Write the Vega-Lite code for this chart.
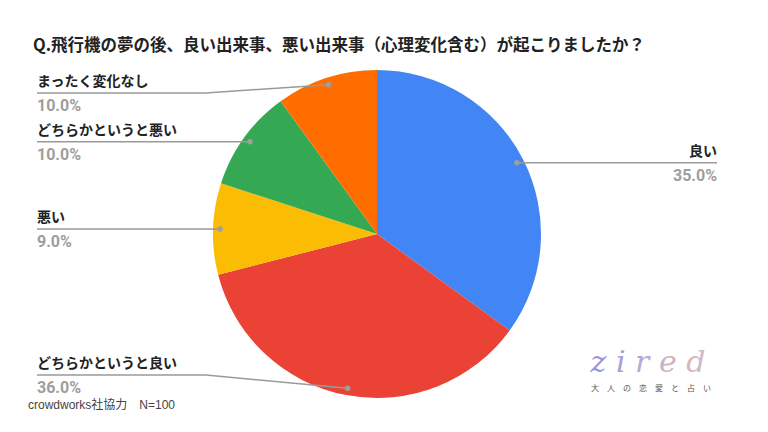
{
  "$schema": "https://vega.github.io/schema/vega-lite/v6.json",
  "width": 768,
  "height": 432,
  "autosize": {"type": "fit", "contains": "padding"},
  "padding": 0,
  "background": "white",
  "config": {"view": {"stroke": null}},
  "datasets": {
    "answers": [
      {"answer": "良い", "value": 35, "order": 1},
      {"answer": "どちらかというと良い", "value": 36, "order": 2},
      {"answer": "悪い", "value": 9, "order": 3},
      {"answer": "どちらかというと悪い", "value": 10, "order": 4},
      {"answer": "まったく変化なし", "value": 10, "order": 5}
    ]
  },
  "layer": [
    {
      "data": {"name": "answers"},
      "mark": {"type": "arc", "outerRadius": 164},
      "encoding": {
        "theta": {"field": "value", "type": "quantitative", "stack": true},
        "order": {"field": "order", "type": "quantitative"},
        "color": {
          "field": "answer",
          "type": "nominal",
          "scale": {
            "domain": ["良い", "どちらかというと良い", "悪い", "どちらかというと悪い", "まったく変化なし"],
            "range": ["#4285F4", "#EA4335", "#FBBC04", "#34A853", "#FF6D01"]
          },
          "legend": null
        },
        "x": {"datum": 377, "type": "quantitative", "scale": {"domain": [0, 768], "nice": false, "zero": false}, "axis": null},
        "y": {"datum": 234, "type": "quantitative", "scale": {"domain": [0, 432], "nice": false, "zero": false, "reverse": true}, "axis": null}
      }
    },
    {
      "data": {"name": "answers"},
      "transform": [
        {"joinaggregate": [{"op": "sum", "field": "value", "as": "total"}]},
        {"stack": "value", "groupby": [], "sort": [{"field": "order", "order": "ascending"}], "as": ["v0", "v1"]},
        {"calculate": "(datum.v0 + datum.v1) / 2 / datum.total * 2 * PI", "as": "ang"},
        {"calculate": "377 + 157 * sin(datum.ang)", "as": "dotX"},
        {"calculate": "234 - 157 * cos(datum.ang)", "as": "dotY"},
        {"calculate": "sin(datum.ang) < 0", "as": "left"},
        {"calculate": "clamp(datum.dotY, 93, 375)", "as": "lineY"},
        {"calculate": "datum.left ? 37 : 717", "as": "endX"},
        {"calculate": "datum.left ? 206 : 560", "as": "bendX"},
        {"calculate": "format(datum.value / datum.total * 100, '.1f') + '%'", "as": "pct"}
      ],
      "layer": [
        {
          "mark": {"type": "rule", "color": "#9a9a9a", "strokeWidth": 1.5},
          "encoding": {
            "x": {"field": "endX", "type": "quantitative"},
            "x2": {"field": "bendX"},
            "y": {"field": "lineY", "type": "quantitative"}
          }
        },
        {
          "mark": {"type": "rule", "color": "#9a9a9a", "strokeWidth": 1.5},
          "encoding": {
            "x": {"field": "bendX", "type": "quantitative"},
            "x2": {"field": "dotX"},
            "y": {"field": "lineY", "type": "quantitative"},
            "y2": {"field": "dotY"}
          }
        },
        {
          "mark": {"type": "point", "filled": true, "size": 30, "color": "#9e9e9e", "opacity": 1},
          "encoding": {
            "x": {"field": "dotX", "type": "quantitative"},
            "y": {"field": "dotY", "type": "quantitative"}
          }
        },
        {
          "transform": [{"filter": "datum.left"}],
          "mark": {"type": "text", "align": "left", "baseline": "alphabetic", "dy": -7, "font": "Noto Sans CJK JP", "fontWeight": "bold", "fontSize": 14, "color": "#222222"},
          "encoding": {
            "x": {"field": "endX", "type": "quantitative"},
            "y": {"field": "lineY", "type": "quantitative"},
            "text": {"field": "answer"}
          }
        },
        {
          "transform": [{"filter": "datum.left"}],
          "mark": {"type": "text", "align": "left", "baseline": "alphabetic", "dy": 18, "font": "Roboto", "fontWeight": "bold", "fontSize": 16, "color": "#9e9e9e"},
          "encoding": {
            "x": {"field": "endX", "type": "quantitative"},
            "y": {"field": "lineY", "type": "quantitative"},
            "text": {"field": "pct"}
          }
        },
        {
          "transform": [{"filter": "!datum.left"}],
          "mark": {"type": "text", "align": "right", "baseline": "alphabetic", "dy": -7, "font": "Noto Sans CJK JP", "fontWeight": "bold", "fontSize": 14, "color": "#222222"},
          "encoding": {
            "x": {"field": "endX", "type": "quantitative"},
            "y": {"field": "lineY", "type": "quantitative"},
            "text": {"field": "answer"}
          }
        },
        {
          "transform": [{"filter": "!datum.left"}],
          "mark": {"type": "text", "align": "right", "baseline": "alphabetic", "dy": 18, "font": "Roboto", "fontWeight": "bold", "fontSize": 16, "color": "#9e9e9e"},
          "encoding": {
            "x": {"field": "endX", "type": "quantitative"},
            "y": {"field": "lineY", "type": "quantitative"},
            "text": {"field": "pct"}
          }
        }
      ]
    },
    {
      "data": {"values": [{}]},
      "layer": [
        {
          "mark": {"type": "text", "text": "Q.飛行機の夢の後、良い出来事、悪い出来事（心理変化含む）が起こりましたか？", "align": "left", "baseline": "alphabetic", "font": "Noto Sans CJK JP", "fontWeight": "bold", "fontSize": 16.5, "color": "#222222"},
          "encoding": {"x": {"datum": 33}, "y": {"datum": 51}}
        },
        {
          "mark": {"type": "text", "text": "crowdworks社協力　N=100", "align": "left", "baseline": "alphabetic", "font": "Liberation Sans, Noto Sans CJK JP", "fontSize": 12, "color": "#444444"},
          "encoding": {"x": {"datum": 28}, "y": {"datum": 409}}
        },
        {
          "mark": {"type": "text", "text": "z   i   r   e   d", "align": "center", "baseline": "alphabetic", "font": "DejaVu Serif", "fontStyle": "italic", "fontSize": 30, "color": {"gradient": "linear", "x1": 0, "x2": 1, "y1": 0, "y2": 0, "stops": [{"offset": 0, "color": "#8c90dc"}, {"offset": 0.5, "color": "#b9aed6"}, {"offset": 0.8, "color": "#ddb5ad"}, {"offset": 1, "color": "#c9bccd"}]}},
          "encoding": {"x": {"datum": 648}, "y": {"datum": 372}}
        },
        {
          "mark": {"type": "text", "text": "大　人　の　恋　愛　と　占　い", "align": "center", "baseline": "alphabetic", "font": "Noto Sans CJK JP", "fontSize": 8, "color": "#555555"},
          "encoding": {"x": {"datum": 651}, "y": {"datum": 391}}
        }
      ]
    }
  ]
}
